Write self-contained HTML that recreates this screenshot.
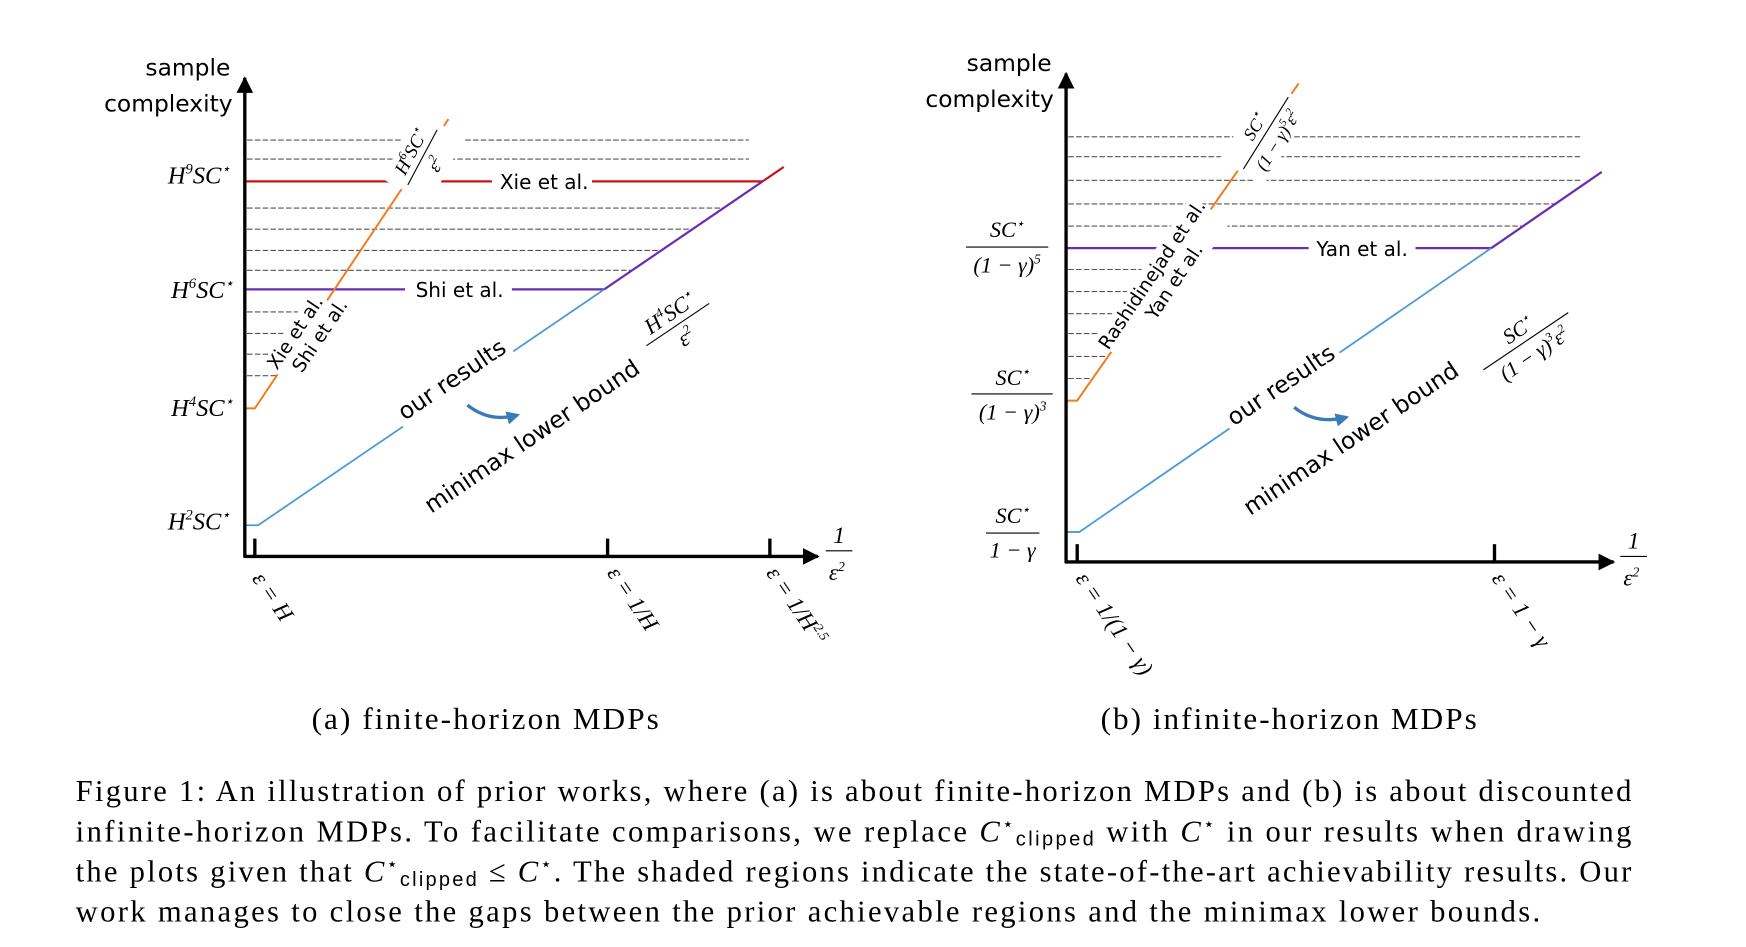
<!DOCTYPE html>
<html><head><meta charset="utf-8"><style>
html,body{margin:0;padding:0;background:#fff}
svg{display:block}
.s{font-family:"DejaVu Sans","Liberation Sans",sans-serif}
.m{font-family:"Liberation Serif",serif;font-style:italic}
.r{font-family:"Liberation Serif",serif}
</style></head><body>
<svg id="fig" width="1746" height="947" viewBox="0 0 1569 851" preserveAspectRatio="none" xmlns="http://www.w3.org/2000/svg">
<defs>
<marker id="ah" viewBox="0 0 10 10" refX="9" refY="5" markerWidth="5" markerHeight="5" orient="auto"><path d="M0,0L10,5L0,10z" fill="#000"/></marker>
<marker id="bh" viewBox="0 0 10 10" refX="8" refY="5" markerWidth="4" markerHeight="4" orient="auto"><path d="M0,0L10,5L0,10z" fill="#3a7ab8"/></marker>
</defs>
<g id="panelA"></g>
<g id="panelB"></g>

<text class="s" x="207" y="68" font-size="21" text-anchor="end">sample</text>
<text class="s" x="209" y="100" font-size="21" text-anchor="end">complexity</text>
<g class="m" font-size="22" text-anchor="end">
<text x="207" y="165">H<tspan font-size="13" dy="-9">9</tspan><tspan dy="9">SC</tspan><tspan font-size="13" dy="-9">⋆</tspan></text>
<text x="210" y="268">H<tspan font-size="13" dy="-9">6</tspan><tspan dy="9">SC</tspan><tspan font-size="13" dy="-9">⋆</tspan></text>
<text x="210" y="374">H<tspan font-size="13" dy="-9">4</tspan><tspan dy="9">SC</tspan><tspan font-size="13" dy="-9">⋆</tspan></text>
<text x="207" y="476">H<tspan font-size="13" dy="-9">2</tspan><tspan dy="9">SC</tspan><tspan font-size="13" dy="-9">⋆</tspan></text>
</g>
<g id="overA">
<rect x="442" y="152" width="90" height="22" fill="#fff"/>
<text class="s" x="489" y="170" font-size="18" text-anchor="middle">Xie et al.</text>
<rect x="364" y="249" width="96" height="22" fill="#fff"/>
<text class="s" x="413" y="267" font-size="18" text-anchor="middle">Shi et al.</text>
<g transform="translate(270,302) rotate(-56)"><rect x="-40" y="-14" width="80" height="40" fill="#fff"/>
<text class="s" x="0" y="0" font-size="17" text-anchor="middle">Xie et al.</text>
<text class="s" x="10" y="20" font-size="17" text-anchor="middle">Shi et al.</text></g>
<g transform="translate(377,140) rotate(-62)" class="m" font-size="17" text-anchor="middle">
<rect x="-34" y="-20" width="68" height="48" fill="#fff"/>
<text x="0" y="-3">H<tspan font-size="11" dy="-7">6</tspan><tspan dy="7">SC</tspan><tspan font-size="11" dy="-7">⋆</tspan></text>
<line x1="-28" y1="3" x2="28" y2="3" stroke="#000" stroke-width="1"/>
<text x="0" y="22">ε<tspan font-size="11" dy="-7">2</tspan></text></g>
<g transform="translate(410,347) rotate(-34)"><rect x="-60" y="-18" width="120" height="26" fill="#fff"/>
<text class="s" x="0" y="0" font-size="21" text-anchor="middle">our results</text></g>
</g>
<text class="s" transform="translate(482,398) rotate(-34)" font-size="21" text-anchor="middle">minimax lower bound</text>
<path d="M420,364 Q440,380 465,373" fill="none" stroke="#3a7ab8" stroke-width="3" marker-end="url(#bh)"/>
<g transform="translate(608,290) rotate(-34)" class="m" font-size="20" text-anchor="middle">
<text x="0" y="-4">H<tspan font-size="12" dy="-8">4</tspan><tspan dy="8">SC</tspan><tspan font-size="12" dy="-8">⋆</tspan></text>
<line x1="-34" y1="2" x2="34" y2="2" stroke="#000" stroke-width="1"/>
<text x="0" y="22">ε<tspan font-size="12" dy="-8">2</tspan></text></g>
<g class="m" font-size="21">
<text x="754" y="488" text-anchor="middle" class="r">1</text><line x1="742" y1="495" x2="766" y2="495" stroke="#000"/><text x="752" y="521" text-anchor="middle">ε<tspan font-size="12" dy="-8">2</tspan></text></g>
<g class="m" font-size="21">
<text transform="translate(226,520) rotate(56)">ε = H</text>
<text transform="translate(545,515) rotate(56)">ε = 1/H</text>
<text transform="translate(688,515) rotate(56)">ε = 1/H<tspan font-size="12" dy="-8">2.5</tspan></text>
</g>

<text class="s" x="945" y="64" font-size="21" text-anchor="end">sample</text>
<text class="s" x="947" y="96" font-size="21" text-anchor="end">complexity</text>
<g class="m" font-size="20" text-anchor="middle">
<text x="905" y="213">SC<tspan font-size="12" dy="-8">⋆</tspan></text><line x1="868" y1="222" x2="942" y2="222" stroke="#000"/><text x="905" y="245">(1 − γ)<tspan font-size="12" dy="-8">5</tspan></text>
<text x="910" y="346">SC<tspan font-size="12" dy="-8">⋆</tspan></text><line x1="873" y1="354" x2="946" y2="354" stroke="#000"/><text x="910" y="377">(1 − γ)<tspan font-size="12" dy="-8">3</tspan></text>
<text x="910" y="470">SC<tspan font-size="12" dy="-8">⋆</tspan></text><line x1="886" y1="479" x2="934" y2="479" stroke="#000"/><text x="910" y="501">1 − γ</text>
</g>
<g id="overB">
<rect x="1176" y="212" width="96" height="22" fill="#fff"/>
<text class="s" x="1224" y="230" font-size="18" text-anchor="middle">Yan et al.</text>
<g transform="translate(1040,250) rotate(-56)"><rect x="-78" y="-16" width="156" height="42" fill="#fff"/>
<text class="s" x="0" y="0" font-size="17" text-anchor="middle">Rashidinejad et al.</text>
<text class="s" x="6" y="20" font-size="17" text-anchor="middle">Yan et al.</text></g>
<g transform="translate(1135,118) rotate(-58)" class="m" font-size="16" text-anchor="middle">
<rect x="-42" y="-20" width="84" height="46" fill="#fff"/>
<text x="0" y="-3">SC<tspan font-size="11" dy="-7">⋆</tspan></text>
<line x1="-38" y1="3" x2="38" y2="3" stroke="#000"/>
<text x="0" y="21">(1 − γ)<tspan font-size="10" dy="-7">5</tspan><tspan dy="7">ε</tspan><tspan font-size="10" dy="-7">2</tspan></text></g>
<g transform="translate(1155,352) rotate(-34)"><rect x="-60" y="-18" width="120" height="26" fill="#fff"/>
<text class="s" x="0" y="0" font-size="21" text-anchor="middle">our results</text></g>
</g>
<text class="s" transform="translate(1218,400) rotate(-34)" font-size="21" text-anchor="middle">minimax lower bound</text>
<path d="M1163,366 Q1183,382 1210,375" fill="none" stroke="#3a7ab8" stroke-width="3" marker-end="url(#bh)"/>
<g transform="translate(1370,305) rotate(-34)" class="m" font-size="19" text-anchor="middle">
<text x="0" y="-4">SC<tspan font-size="11" dy="-8">⋆</tspan></text>
<line x1="-46" y1="2" x2="46" y2="2" stroke="#000"/>
<text x="0" y="22">(1 − γ)<tspan font-size="11" dy="-8">3</tspan><tspan dy="8">ε</tspan><tspan font-size="11" dy="-8">2</tspan></text></g>
<g class="m" font-size="21">
<text x="1468" y="493" text-anchor="middle" class="r">1</text><line x1="1456" y1="500" x2="1480" y2="500" stroke="#000"/><text x="1466" y="526" text-anchor="middle">ε<tspan font-size="12" dy="-8">2</tspan></text></g>
<g class="m" font-size="21">
<text transform="translate(966,520) rotate(56)">ε = 1/(1 − γ)</text>
<text transform="translate(1340,520) rotate(56)">ε = 1 − γ</text>
</g>

<g class="r">
<text x="436" y="655" font-size="28" text-anchor="middle" textLength="312">(a) finite-horizon MDPs</text>
<text x="1158" y="655" font-size="28" text-anchor="middle" textLength="338">(b) infinite-horizon MDPs</text>
<text x="68" y="720" font-size="27.5" textLength="1398">Figure 1:   An illustration of prior works, where (a) is about finite-horizon MDPs and (b) is about discounted</text>
<text x="68" y="756" font-size="27.5" textLength="1398">infinite-horizon MDPs.  To facilitate comparisons, we replace <tspan font-style="italic">C</tspan><tspan font-size="16" dy="-10">⋆</tspan><tspan font-size="18" dy="14" font-family="Liberation Sans">clipped</tspan><tspan dy="-4"> with </tspan><tspan font-style="italic">C</tspan><tspan font-size="16" dy="-10">⋆</tspan><tspan dy="10"> in our results when drawing</tspan></text>
<text x="68" y="792" font-size="27.5" textLength="1398">the plots given that <tspan font-style="italic">C</tspan><tspan font-size="16" dy="-10">⋆</tspan><tspan font-size="18" dy="14" font-family="Liberation Sans">clipped</tspan><tspan dy="-4"> ≤ </tspan><tspan font-style="italic">C</tspan><tspan font-size="16" dy="-10">⋆</tspan><tspan dy="10">. The shaded regions indicate the state-of-the-art achievability results. Our</tspan></text>
<text x="68" y="828" font-size="27.5" textLength="1316">work manages to close the gaps between the prior achievable regions and the minimax lower bounds.</text>
</g>
</svg>
<script>
// Panel A data (levels = exponent of H)
const aLevels = [2, 4, 6, 9];
const aTicks = [0, 1, 1.46];
const aShaded = [10.15, 9.62, 8.26, 7.67, 7.08, 6.53, 5.62, 5.26, 4.91, 4.55];
const aTopLevel = 9.4;
// Panel B data (levels = exponent of 1/(1-gamma))
const bLevels = [1, 3, 5];
const bTicks = [0, 1];
const bShaded = [6.46, 6.2, 5.89, 5.58, 5.29, 4.72, 4.43, 4.14, 3.88, 3.58, 3.29];
const bTopLevel = 6.0;

const NS = 'http://www.w3.org/2000/svg';
function mk(parent, tag, attrs){const e=document.createElementNS(NS,tag);for(const k in attrs)e.setAttribute(k,attrs[k]);parent.appendChild(e);return e;}

function drawPanel(g, cfg){
  const L = cfg.levels, P = cfg.levelPx;
  const y = v => {
    let i = 0;
    while (i < L.length - 2 && v > L[i+1]) i++;
    return P[i] + (v - L[i]) * (P[i+1] - P[i]) / (L[i+1] - L[i]);
  };
  const x = t => cfg.xt0 + t * cfg.kx;
  const yLow = y(L[0]);
  const lbX = yy => cfg.lbx0 + (yLow - yy) * cfg.lbk;
  const yOr = y(cfg.orange);
  const orX = yy => cfg.ox0 + (yOr - yy) * (cfg.oxEnd - cfg.ox0) / (yOr - cfg.oyEnd);
  const yMid = y(cfg.mid);
  cfg.shaded.forEach(v=>{
    const yy = y(v);
    const xe = v > cfg.mid ? Math.min(lbX(yy), cfg.xmax) : orX(yy);
    const l = mk(g,'line',{x1:cfg.ax+2,y1:yy,x2:xe,y2:yy,stroke:'#555','stroke-width':1,'stroke-dasharray':'5,2'});
    
    
  });
  cfg.priors.forEach(p=>{
    const yy=y(p.v);
    const l = mk(g,'line',{x1:cfg.ax,y1:yy,x2:lbX(yy),y2:yy,stroke:p.c,'stroke-width':2});
    
    
  });
  const bl = mk(g,'polyline',{points:`${cfg.ax},${yLow} ${cfg.lbx0},${yLow} ${lbX(yMid)},${yMid}`,fill:'none',stroke:'#4a9ad8','stroke-width':1.6});
  
  
  const yP = y(cfg.purpleEnd);
  const pl = mk(g,'line',{x1:lbX(yMid),y1:yMid,x2:lbX(yP),y2:yP,stroke:'#6a2db0','stroke-width':2});
  
  
  if(cfg.redEnd){
    const yR = y(cfg.redEnd);
    const rl = mk(g,'line',{x1:lbX(yP),y1:yP,x2:lbX(yR),y2:yR,stroke:'#cc1010','stroke-width':2});
    
    
  }
  const ol = mk(g,'polyline',{points:`${cfg.ax},${yOr} ${cfg.ox0},${yOr} ${cfg.oxEnd},${cfg.oyEnd}`,fill:'none',stroke:'#f07c20','stroke-width':1.8});
  
  
  const ya = mk(g,'line',{x1:cfg.ax,y1:cfg.axy+1,x2:cfg.ax,y2:cfg.ytop,stroke:'#000','stroke-width':3,'marker-end':'url(#ah)'});
  
  
  const xa = mk(g,'line',{x1:cfg.ax-1,y1:cfg.axy,x2:cfg.xend,y2:cfg.axy,stroke:'#000','stroke-width':3,'marker-end':'url(#ah)'});
  
  
  cfg.ticks.forEach(t=>{
    const tk = mk(g,'line',{x1:x(t),y1:cfg.axy-16,x2:x(t),y2:cfg.axy,stroke:'#000','stroke-width':3});
    
    
  });
}
drawPanel(document.getElementById('panelA'),{
  ax:220, axy:500, ytop:70, xend:735, levels:aLevels, levelPx:[472,367,260,163],
  xt0:229, kx:317, mid:aLevels[2], purpleEnd:aLevels[3], redEnd:aTopLevel,
  lbx0:232, lbk:311/212, xmax:673, shaded:aShaded,
  priors:[{v:aLevels[3],c:'#cc1010',name:'xie-line'},{v:aLevels[2],c:'#6a2db0',name:'shi-line'}],
  orange:aLevels[1], ox0:229, oxEnd:403, oyEnd:107, ticks:aTicks
});
drawPanel(document.getElementById('panelB'),{
  ax:958, axy:505, ytop:66, xend:1450, levels:bLevels, levelPx:[478,360,223],
  xt0:968, kx:375, mid:bLevels[2], purpleEnd:bTopLevel, redEnd:null,
  lbx0:970, lbk:370/255, xmax:1422, shaded:bShaded,
  priors:[{v:bLevels[2],c:'#6a2db0',name:'yan-line'}],
  orange:bLevels[1], ox0:968, oxEnd:1167, oyEnd:75, ticks:bTicks
});
const svg=document.getElementById('fig');
svg.appendChild(document.getElementById('overA'));
svg.appendChild(document.getElementById('overB'));
</script>
</body></html>
